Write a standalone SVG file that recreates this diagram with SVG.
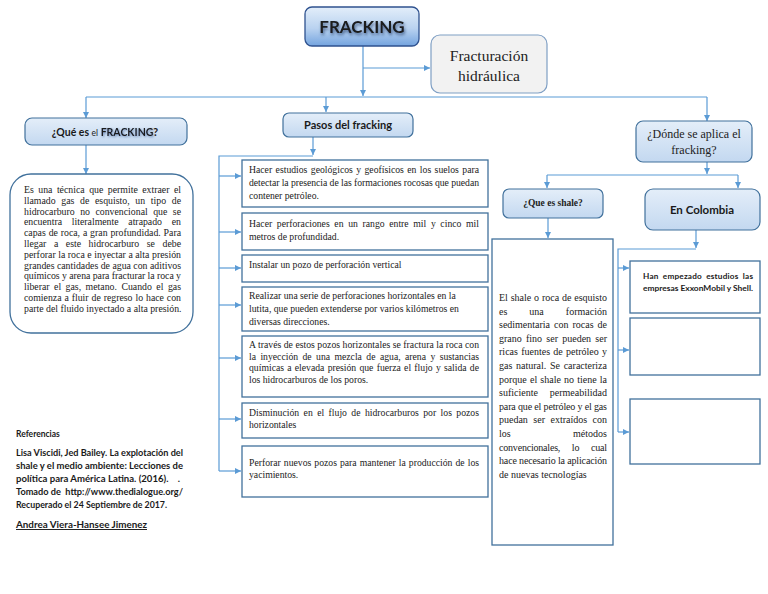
<svg xmlns="http://www.w3.org/2000/svg" width="768" height="594" viewBox="0 0 768 594">
<defs>
<linearGradient id="gMain" x1="0" y1="0" x2="0" y2="1">
<stop offset="0" stop-color="#e3eefa"/><stop offset="0.55" stop-color="#b9d2f0"/><stop offset="1" stop-color="#74a4df"/>
</linearGradient>
<linearGradient id="gBox" x1="0" y1="0" x2="0" y2="1">
<stop offset="0" stop-color="#e4eef9"/><stop offset="1" stop-color="#c3d8f0"/>
</linearGradient>
<filter id="shadow" x="-20%" y="-50%" width="140%" height="200%">
<feGaussianBlur in="SourceAlpha" stdDeviation="1.6"/><feOffset dx="1" dy="1.5" result="b"/>
<feFlood flood-color="#1f3864" flood-opacity="0.75"/><feComposite in2="b" operator="in"/>
<feMerge><feMergeNode/><feMergeNode in="SourceGraphic"/></feMerge>
</filter>
<filter id="glow" x="-20%" y="-60%" width="140%" height="220%">
<feGaussianBlur in="SourceAlpha" stdDeviation="1.3"/><feOffset dx="0.5" dy="1" result="b"/>
<feFlood flood-color="#3b5f96" flood-opacity="0.7"/><feComposite in2="b" operator="in"/>
<feMerge><feMergeNode/><feMergeNode in="SourceGraphic"/></feMerge>
</filter>
<marker id="arr" viewBox="0 0 6 6" refX="6" refY="3" markerWidth="6" markerHeight="6" markerUnits="userSpaceOnUse" orient="auto">
<path d="M0,0 L6,3 L0,6 z" fill="#5b9bd5"/>
</marker>
<style>
.rbox{fill:url(#gBox);stroke:#41719c;stroke-width:1.2}
.sbox{fill:#ffffff;stroke:#41719c;stroke-width:1.3}
.con{fill:none;stroke:#5b9bd5;stroke-width:1.2}
.arw{fill:none;stroke:#5b9bd5;stroke-width:1.2;marker-end:url(#arr)}
.s{font-family:"Liberation Serif","Times New Roman",serif;fill:#222222}
.t1{font-size:9.8px}
.t2{font-size:9.7px}
.t3{font-size:10px}
.sans{font-family:Lato,"Liberation Sans",Arial,sans-serif;fill:#1a1a1a}
</style>
</defs>

<g id="connectors">
<path class="arw" d="M363 46 V96"/>
<path class="arw" d="M363 68 H430"/>
<path class="con" d="M86 97 H707"/>
<path class="arw" d="M86 97 V118"/>
<path class="arw" d="M326 97 V112"/>
<path class="arw" d="M707 97 V121"/>
<path class="arw" d="M86 145 V174"/>
<path class="arw" d="M313 137 V155"/>
<path class="con" d="M313 156 H219 V471"/>
<path class="arw" d="M219 176 H241"/>
<path class="arw" d="M219 232 H241"/>
<path class="arw" d="M219 268 H241"/>
<path class="arw" d="M219 305 H241"/>
<path class="arw" d="M219 358 H241"/>
<path class="arw" d="M219 419 H241"/>
<path class="arw" d="M219 471 H241"/>
<path class="arw" d="M707 162 V174"/>
<path class="con" d="M547 175 H738"/>
<path class="arw" d="M547 175 V188"/>
<path class="arw" d="M738 175 V188"/>
<path class="arw" d="M548 218 V238"/>
<path class="arw" d="M696 230 V248"/>
<path class="con" d="M696 249 H618 V432"/>
<path class="arw" d="M618 268 H629"/>
<path class="arw" d="M618 350 H629"/>
<path class="arw" d="M618 432 H629"/>
</g>

<g id="fracking">
<rect x="305" y="7" width="114" height="39" rx="7" fill="url(#gMain)" stroke="#2f528f" stroke-width="1.3"/>
<text class="sans" x="362" y="33" font-size="17" font-weight="bold" text-anchor="middle" fill="#1c2545" filter="url(#shadow)">FRACKING</text>
</g>

<g id="fracturacion">
<rect x="431" y="35" width="116" height="58" rx="9" fill="#f2f2f2" stroke="#7f9fc4" stroke-width="1.2"/>
<text class="s" x="489" y="61" font-size="15.5" text-anchor="middle">Fracturación</text>
<text class="s" x="489" y="81" font-size="15.5" text-anchor="middle">hidráulica</text>
</g>

<g id="que-es">
<rect class="rbox" x="25" y="118" width="162" height="27" rx="7"/>
<text class="sans" x="105" y="135.5" font-size="10.5" font-weight="bold" text-anchor="middle">¿Qué es <tspan font-weight="normal" font-size="8.5">el</tspan> <tspan filter="url(#glow)">FRACKING</tspan>?</text>
</g>

<g id="definicion">
<rect x="10" y="174" width="183" height="159" rx="21" fill="#ffffff" stroke="#41719c" stroke-width="1.3"/>
<text class="s t1" x="24" y="193" textLength="157" lengthAdjust="spacing" word-spacing="2">Es una técnica que permite extraer el</text>
<text class="s t1" x="24" y="203.8" textLength="157" lengthAdjust="spacing" word-spacing="3.2">llamado gas de esquisto, un tipo de</text>
<text class="s t1" x="24" y="214.6" textLength="157" lengthAdjust="spacing" word-spacing="3">hidrocarburo no convencional que se</text>
<text class="s t1" x="24" y="225.4" textLength="157" lengthAdjust="spacing" word-spacing="7.3">encuentra literalmente atrapado en</text>
<text class="s t1" x="24" y="236.2" textLength="157" lengthAdjust="spacing" word-spacing="0.4">capas de roca, a gran profundidad. Para</text>
<text class="s t1" x="24" y="247" textLength="157" lengthAdjust="spacing" word-spacing="5.1">llegar a este hidrocarburo se debe</text>
<text class="s t1" x="24" y="257.8" textLength="157" lengthAdjust="spacing">perforar la roca e inyectar a alta presión</text>
<text class="s t1" x="24" y="268.6" textLength="157" lengthAdjust="spacing">grandes cantidades de agua con aditivos</text>
<text class="s t1" x="24" y="279.4" textLength="157" lengthAdjust="spacing">químicos y arena para fracturar la roca y</text>
<text class="s t1" x="24" y="290.2" textLength="157" lengthAdjust="spacing" word-spacing="2">liberar el gas, metano. Cuando el gas</text>
<text class="s t1" x="24" y="301" textLength="157" lengthAdjust="spacing" word-spacing="0.5">comienza a fluir de regreso lo hace con</text>
<text class="s t1" x="24" y="311.8">parte del fluido inyectado a alta presión.</text>
</g>

<g id="pasos">
<rect class="rbox" x="283" y="113" width="130" height="24" rx="6"/>
<text class="sans" x="348" y="129" font-size="11" font-weight="bold" text-anchor="middle">Pasos del fracking</text>
</g>

<g id="paso1">
<rect class="sbox" x="242" y="160" width="246" height="47"/>
<text class="s t2" x="249" y="173" textLength="230" lengthAdjust="spacing" word-spacing="1">Hacer estudios geológicos y geofísicos en los suelos para</text>
<text class="s t2" x="249" y="186" textLength="230" lengthAdjust="spacing">detectar la presencia de las formaciones rocosas que puedan</text>
<text class="s t2" x="249" y="199">contener petróleo.</text>
</g>

<g id="paso2">
<rect class="sbox" x="242" y="213" width="246" height="37"/>
<text class="s t2" x="249" y="227" textLength="230" lengthAdjust="spacing" word-spacing="2.2">Hacer perforaciones en un rango entre mil y cinco mil</text>
<text class="s t2" x="249" y="240">metros de profundidad.</text>
</g>

<g id="paso3">
<rect class="sbox" x="242" y="255" width="246" height="27"/>
<text class="s t2" x="249" y="268">Instalar un pozo de perforación vertical</text>
</g>

<g id="paso4">
<rect class="sbox" x="242" y="287" width="246" height="44"/>
<text class="s t2" x="249" y="299">Realizar una serie de perforaciones horizontales en la</text>
<text class="s t2" x="249" y="312">lutita, que pueden extenderse por varios kilómetros en</text>
<text class="s t2" x="249" y="325">diversas direcciones.</text>
</g>

<g id="paso5">
<rect class="sbox" x="242" y="336" width="246" height="61"/>
<text class="s t2" x="249" y="348" textLength="230" lengthAdjust="spacing">A través de estos pozos horizontales se fractura la roca con</text>
<text class="s t2" x="249" y="359.5" textLength="230" lengthAdjust="spacing" word-spacing="2">la inyección de una mezcla de agua, arena y sustancias</text>
<text class="s t2" x="249" y="371" textLength="230" lengthAdjust="spacing" word-spacing="0.8">químicas a elevada presión que fuerza el flujo y salida de</text>
<text class="s t2" x="249" y="382.5">los hidrocarburos de los poros.</text>
</g>

<g id="paso6">
<rect class="sbox" x="242" y="403" width="246" height="35"/>
<text class="s t2" x="249" y="416" textLength="230" lengthAdjust="spacing" word-spacing="2">Disminución en el flujo de hidrocarburos por los pozos</text>
<text class="s t2" x="249" y="428">horizontales</text>
</g>

<g id="paso7">
<rect class="sbox" x="242" y="446" width="246" height="51"/>
<text class="s t2" x="249" y="466" textLength="230" lengthAdjust="spacing" word-spacing="0.6">Perforar nuevos pozos para mantener la producción de los</text>
<text class="s t2" x="249" y="478">yacimientos.</text>
</g>

<g id="donde">
<rect class="rbox" x="636" y="121" width="116" height="41" rx="7"/>
<text class="s" x="694" y="138" font-size="12" text-anchor="middle">¿Dónde se aplica el</text>
<text class="s" x="694" y="154" font-size="12" text-anchor="middle">fracking?</text>
</g>

<g id="que-es-shale">
<rect class="rbox" x="503" y="189" width="100" height="29" rx="6"/>
<text class="s" x="553" y="206" font-size="9.5" font-weight="bold" text-anchor="middle">¿Que es shale?</text>
</g>

<g id="shale">
<rect class="sbox" x="492" y="239" width="121" height="306"/>
<text class="s t3" x="499" y="301" textLength="108" lengthAdjust="spacing" word-spacing="0.3">El shale o roca de esquisto</text>
<text class="s t3" x="499" y="314.6" textLength="108" lengthAdjust="spacing" word-spacing="19.5">es una formación</text>
<text class="s t3" x="499" y="328.2" textLength="108" lengthAdjust="spacing" word-spacing="1.5">sedimentaria con rocas de</text>
<text class="s t3" x="499" y="341.8" textLength="108" lengthAdjust="spacing" word-spacing="1.7">grano fino ser pueden ser</text>
<text class="s t3" x="499" y="355.4" textLength="108" lengthAdjust="spacing" word-spacing="0.7">ricas fuentes de petróleo y</text>
<text class="s t3" x="499" y="369" textLength="108" lengthAdjust="spacing" word-spacing="1.2">gas natural. Se caracteriza</text>
<text class="s t3" x="499" y="382.6" textLength="108" lengthAdjust="spacing" word-spacing="0.6">porque el shale no tiene la</text>
<text class="s t3" x="499" y="396.2" textLength="108" lengthAdjust="spacing" word-spacing="9.4">suficiente permeabilidad</text>
<text class="s t3" x="499" y="409.8" textLength="108" lengthAdjust="spacing">para que el petróleo y el gas</text>
<text class="s t3" x="499" y="423.4" textLength="108" lengthAdjust="spacing" word-spacing="3">puedan ser extraídos con</text>
<text class="s t3" x="499" y="437" textLength="108" lengthAdjust="spacing" word-spacing="59.9">los métodos</text>
<text class="s t3" x="499" y="450.6" textLength="108" lengthAdjust="spacing" word-spacing="9.4">convencionales, lo cual</text>
<text class="s t3" x="499" y="464.2" textLength="108" lengthAdjust="spacing">hace necesario la aplicación</text>
<text class="s t3" x="499" y="477.8">de nuevas tecnologías</text>
</g>

<g id="en-colombia">
<rect class="rbox" x="645" y="189" width="115" height="41" rx="8"/>
<text class="sans" x="702" y="214" font-size="11.5" font-weight="bold" text-anchor="middle">En Colombia</text>
</g>

<g id="colombia1">
<rect class="sbox" x="630" y="261" width="130" height="52"/>
<text class="sans" x="643" y="279" font-size="8.2" font-weight="bold" textLength="110" lengthAdjust="spacing" word-spacing="2">Han empezado estudios las</text>
<text class="sans" x="643" y="291" font-size="8.2" font-weight="bold" textLength="110" lengthAdjust="spacingAndGlyphs">empresas ExxonMobil y Shell.</text>
</g>

<g id="colombia2">
<rect class="sbox" x="630" y="318" width="130" height="57"/>
</g>

<g id="colombia3">
<rect class="sbox" x="630" y="399" width="130" height="65"/>
</g>

<g id="referencias">
<text class="sans" x="16" y="437" font-size="8.5" font-weight="bold">Referencias</text>
<text class="sans" x="16" y="456" font-size="8.5" font-weight="bold" textLength="167" lengthAdjust="spacingAndGlyphs">Lisa Viscidi, Jed Bailey. La explotación del</text>
<text class="sans" x="16" y="469" font-size="8.5" font-weight="bold" textLength="167" lengthAdjust="spacingAndGlyphs">shale y el medio ambiente: Lecciones de</text>
<text class="sans" x="16" y="482" font-size="8.5" font-weight="bold" textLength="164" lengthAdjust="spacingAndGlyphs" xml:space="preserve">política para América Latina. (2016).    .</text>
<text class="sans" x="16" y="495" font-size="8.5" font-weight="bold" textLength="167" lengthAdjust="spacingAndGlyphs" xml:space="preserve">Tomado de  http://www.thedialogue.org/</text>
<text class="sans" x="16" y="508" font-size="8.5" font-weight="bold" textLength="151" lengthAdjust="spacingAndGlyphs">Recuperado el 24 Septiembre de 2017.</text>
<text class="sans" x="16" y="528" font-size="9.5" font-weight="bold" text-decoration="underline" textLength="131" lengthAdjust="spacingAndGlyphs">Andrea Viera-Hansee Jimenez</text>
</g>
</svg>
